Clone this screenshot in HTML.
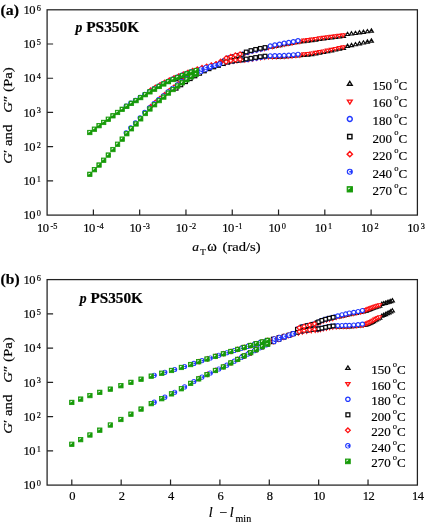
<!DOCTYPE html>
<html lang="en"><head><meta charset="utf-8"><title>PS350K master curves</title>
<style>
html,body{margin:0;padding:0;background:#fff;}
body{width:427px;height:525px;overflow:hidden;}
svg{display:block;}
text{font-family:"Liberation Serif","Times New Roman",serif;fill:#000;stroke:#000;stroke-width:0.18px;}
.tk{font-size:12.5px;letter-spacing:-0.5px;}
.sp{font-size:8.3px;}
.pl{font-size:14px;font-weight:bold;}
.ti{font-size:13.6px;font-weight:bold;}
.bi{font-style:italic;font-weight:bold;}
.it{font-style:italic;}
.yt{font-size:13.2px;white-space:pre;}
.xt{font-size:13.5px;}
.sb{font-size:8.8px;}
.lg{font-size:13px;}
.dg{font-size:8.6px;}
.xl{font-size:14px;}
.sm{font-size:10px;}
</style></head>
<body>
<svg width="427" height="525" viewBox="0 0 427 525">
<defs>
<path id="tu" d="M0,-2.15 L2.0,1.1 L-2.0,1.1 Z" fill="#fff" stroke="#0a0a0a" stroke-width="1.15"/>
<path id="td" d="M0,2.15 L2.0,-1.1 L-2.0,-1.1 Z" fill="#fff" stroke="#ff1212" stroke-width="1.15"/>
<circle id="co" r="2.05" fill="#fff" stroke="#2038ff" stroke-width="1.2"/>
<rect id="sq" x="-1.8" y="-1.8" width="3.6" height="3.6" fill="#fff" stroke="#0a0a0a" stroke-width="1.2"/>
<path id="di" d="M0,-2.2 L2.2,0 L0,2.2 L-2.2,0 Z" fill="#fff" stroke="#ff1212" stroke-width="1.2"/>
<g id="ch"><circle r="2.0" fill="#2038ff" stroke="#2038ff" stroke-width="1.1"/><path d="M0.75,-0.95 A1.15,1.15 0 1 0 0.75,0.95" fill="none" stroke="#fff" stroke-width="1.05"/></g>
<g id="sh"><rect x="-2.2" y="-2.2" width="4.4" height="4.4" fill="#169a08" stroke="#169a08" stroke-width="0.8"/><path d="M-1.3,-1.4 L0.7,-1.4 L-1.3,0.4 Z" fill="#fff"/></g>
</defs>
<rect width="427" height="525" fill="#fff"/>
<g id="plot-a">
<rect x="47.1" y="9.8" width="370.3" height="205.3" fill="none" stroke="#222" stroke-width="1.25"/>
<path d="M47.1,180.88h6 M47.1,146.67h6 M47.1,112.45h6 M47.1,78.23h6 M47.1,44.02h6 M93.39,215.1v-5.5 M139.67,215.1v-5.5 M185.96,215.1v-5.5 M232.25,215.1v-5.5 M278.54,215.1v-5.5 M324.82,215.1v-5.5 M371.11,215.1v-5.5" stroke="#222" stroke-width="1.2" fill="none"/>
<text class="tk" x="34.9" y="219.3" text-anchor="end">10</text><text class="sp" x="36.8" y="216">0</text>
<text class="tk" x="34.9" y="185.08" text-anchor="end">10</text><text class="sp" x="36.8" y="181.78">1</text>
<text class="tk" x="34.9" y="150.87" text-anchor="end">10</text><text class="sp" x="36.8" y="147.57">2</text>
<text class="tk" x="34.9" y="116.65" text-anchor="end">10</text><text class="sp" x="36.8" y="113.35">3</text>
<text class="tk" x="34.9" y="82.43" text-anchor="end">10</text><text class="sp" x="36.8" y="79.13">4</text>
<text class="tk" x="34.9" y="48.22" text-anchor="end">10</text><text class="sp" x="36.8" y="44.92">5</text>
<text class="tk" x="34.9" y="14" text-anchor="end">10</text><text class="sp" x="36.8" y="10.7">6</text>
<text class="tk" x="48.5" y="232" text-anchor="end">10</text><text class="sp" x="50.4" y="228.7">-5</text>
<text class="tk" x="94.79" y="232" text-anchor="end">10</text><text class="sp" x="96.69" y="228.7">-4</text>
<text class="tk" x="141.07" y="232" text-anchor="end">10</text><text class="sp" x="142.97" y="228.7">-3</text>
<text class="tk" x="187.36" y="232" text-anchor="end">10</text><text class="sp" x="189.26" y="228.7">-2</text>
<text class="tk" x="233.65" y="232" text-anchor="end">10</text><text class="sp" x="235.55" y="228.7">-1</text>
<text class="tk" x="279.94" y="232" text-anchor="end">10</text><text class="sp" x="281.84" y="228.7">0</text>
<text class="tk" x="326.22" y="232" text-anchor="end">10</text><text class="sp" x="328.12" y="228.7">1</text>
<text class="tk" x="372.51" y="232" text-anchor="end">10</text><text class="sp" x="374.41" y="228.7">2</text>
<text class="tk" x="418.8" y="232" text-anchor="end">10</text><text class="sp" x="420.7" y="228.7">3</text>
<g>
<use href="#tu" x="271.9" y="47"/>
<use href="#tu" x="275.88" y="46.2"/>
<use href="#tu" x="279.86" y="45.51"/>
<use href="#tu" x="283.84" y="44.65"/>
<use href="#tu" x="287.82" y="44.04"/>
<use href="#tu" x="291.8" y="43.39"/>
<use href="#tu" x="295.78" y="42.54"/>
<use href="#tu" x="299.76" y="41.92"/>
<use href="#tu" x="303.74" y="41.61"/>
<use href="#tu" x="307.72" y="41.14"/>
<use href="#tu" x="311.7" y="40.59"/>
<use href="#tu" x="315.68" y="40"/>
<use href="#tu" x="319.66" y="39.41"/>
<use href="#tu" x="323.64" y="38.86"/>
<use href="#tu" x="327.62" y="38.35"/>
<use href="#tu" x="331.6" y="37.86"/>
<use href="#tu" x="335.58" y="37.36"/>
<use href="#tu" x="339.56" y="36.86"/>
<use href="#tu" x="343.54" y="36.34"/>
<use href="#tu" x="347.52" y="34.4"/>
<use href="#tu" x="351.5" y="33.86"/>
<use href="#tu" x="355.48" y="33.38"/>
<use href="#tu" x="359.46" y="32.79"/>
<use href="#tu" x="363.44" y="32.21"/>
<use href="#tu" x="367.42" y="31.63"/>
<use href="#tu" x="371.4" y="31"/>
<use href="#tu" x="271.9" y="57.16"/>
<use href="#tu" x="275.88" y="57.08"/>
<use href="#tu" x="279.86" y="56.99"/>
<use href="#tu" x="283.84" y="56.91"/>
<use href="#tu" x="287.82" y="56.67"/>
<use href="#tu" x="291.8" y="56.35"/>
<use href="#tu" x="295.78" y="55.93"/>
<use href="#tu" x="299.76" y="55.6"/>
<use href="#tu" x="303.74" y="55.4"/>
<use href="#tu" x="307.72" y="55.02"/>
<use href="#tu" x="311.7" y="54.48"/>
<use href="#tu" x="315.68" y="53.82"/>
<use href="#tu" x="319.66" y="53.12"/>
<use href="#tu" x="323.64" y="52.42"/>
<use href="#tu" x="327.62" y="51.64"/>
<use href="#tu" x="331.6" y="50.78"/>
<use href="#tu" x="335.58" y="49.91"/>
<use href="#tu" x="339.56" y="49.07"/>
<use href="#tu" x="343.54" y="48.33"/>
<use href="#tu" x="347.52" y="46.3"/>
<use href="#tu" x="351.5" y="45.54"/>
<use href="#tu" x="355.48" y="44.66"/>
<use href="#tu" x="359.46" y="43.79"/>
<use href="#tu" x="363.44" y="42.91"/>
<use href="#tu" x="367.42" y="42.04"/>
<use href="#tu" x="371.4" y="41"/>
<use href="#td" x="225.2" y="59.56"/>
<use href="#td" x="229.13" y="57.99"/>
<use href="#td" x="233.06" y="56.82"/>
<use href="#td" x="236.99" y="55.74"/>
<use href="#td" x="240.92" y="54.76"/>
<use href="#td" x="244.85" y="53.42"/>
<use href="#td" x="248.78" y="52.16"/>
<use href="#td" x="252.71" y="51.07"/>
<use href="#td" x="256.64" y="50.14"/>
<use href="#td" x="260.57" y="49.31"/>
<use href="#td" x="264.5" y="48.61"/>
<use href="#td" x="268.43" y="47.5"/>
<use href="#td" x="272.36" y="46.5"/>
<use href="#td" x="276.29" y="45.73"/>
<use href="#td" x="280.22" y="45.03"/>
<use href="#td" x="284.15" y="44.19"/>
<use href="#td" x="288.08" y="43.6"/>
<use href="#td" x="292.01" y="42.95"/>
<use href="#td" x="295.94" y="42.1"/>
<use href="#td" x="299.87" y="41.51"/>
<use href="#td" x="303.8" y="40.2"/>
<use href="#td" x="307.73" y="39.74"/>
<use href="#td" x="311.66" y="39.2"/>
<use href="#td" x="315.59" y="38.61"/>
<use href="#td" x="319.52" y="38.03"/>
<use href="#td" x="323.45" y="37.49"/>
<use href="#td" x="327.38" y="36.98"/>
<use href="#td" x="331.31" y="36.49"/>
<use href="#td" x="335.24" y="36"/>
<use href="#td" x="339.17" y="35.51"/>
<use href="#td" x="343.1" y="35"/>
<use href="#td" x="225.2" y="63.17"/>
<use href="#td" x="229.13" y="62.09"/>
<use href="#td" x="233.06" y="61.34"/>
<use href="#td" x="236.99" y="60.79"/>
<use href="#td" x="240.92" y="60.33"/>
<use href="#td" x="244.85" y="60.1"/>
<use href="#td" x="248.78" y="59.62"/>
<use href="#td" x="252.71" y="58.97"/>
<use href="#td" x="256.64" y="58.3"/>
<use href="#td" x="260.57" y="57.63"/>
<use href="#td" x="264.5" y="57.14"/>
<use href="#td" x="268.43" y="56.87"/>
<use href="#td" x="272.36" y="56.75"/>
<use href="#td" x="276.29" y="56.67"/>
<use href="#td" x="280.22" y="56.58"/>
<use href="#td" x="284.15" y="56.5"/>
<use href="#td" x="288.08" y="56.25"/>
<use href="#td" x="292.01" y="55.93"/>
<use href="#td" x="295.94" y="55.51"/>
<use href="#td" x="299.87" y="55.19"/>
<use href="#td" x="303.8" y="54"/>
<use href="#td" x="307.73" y="53.62"/>
<use href="#td" x="311.66" y="53.08"/>
<use href="#td" x="315.59" y="52.44"/>
<use href="#td" x="319.52" y="51.74"/>
<use href="#td" x="323.45" y="51.05"/>
<use href="#td" x="327.38" y="50.29"/>
<use href="#td" x="331.31" y="49.45"/>
<use href="#td" x="335.24" y="48.58"/>
<use href="#td" x="339.17" y="47.75"/>
<use href="#td" x="343.1" y="47"/>
<use href="#co" x="224.12" y="60.54"/>
<use href="#co" x="228.75" y="57.95"/>
<use href="#co" x="233.38" y="56.58"/>
<use href="#co" x="238.01" y="55.35"/>
<use href="#co" x="242.64" y="54.06"/>
<use href="#co" x="247.27" y="52.49"/>
<use href="#co" x="251.9" y="51.13"/>
<use href="#co" x="256.53" y="50.01"/>
<use href="#co" x="261.16" y="49.04"/>
<use href="#co" x="265.79" y="48.16"/>
<use href="#co" x="270.22" y="46"/>
<use href="#co" x="274.85" y="44.99"/>
<use href="#co" x="279.48" y="44.18"/>
<use href="#co" x="284.11" y="43.2"/>
<use href="#co" x="288.74" y="42.49"/>
<use href="#co" x="293.37" y="41.71"/>
<use href="#co" x="298" y="40.7"/>
<use href="#co" x="224.12" y="63.29"/>
<use href="#co" x="228.75" y="61.93"/>
<use href="#co" x="233.38" y="61.03"/>
<use href="#co" x="238.01" y="60.37"/>
<use href="#co" x="242.64" y="59.94"/>
<use href="#co" x="247.27" y="59.59"/>
<use href="#co" x="251.9" y="58.84"/>
<use href="#co" x="256.53" y="58.05"/>
<use href="#co" x="261.16" y="57.28"/>
<use href="#co" x="265.79" y="56.75"/>
<use href="#co" x="270.22" y="55.8"/>
<use href="#co" x="274.85" y="55.7"/>
<use href="#co" x="279.48" y="55.6"/>
<use href="#co" x="284.11" y="55.5"/>
<use href="#co" x="288.74" y="55.2"/>
<use href="#co" x="293.37" y="54.8"/>
<use href="#co" x="298" y="54.3"/>
<use href="#sq" x="176.2" y="88.3"/>
<use href="#sq" x="180.9" y="84.9"/>
<use href="#sq" x="185.6" y="81.74"/>
<use href="#sq" x="190.3" y="78.71"/>
<use href="#sq" x="195" y="75.94"/>
<use href="#sq" x="199.7" y="73.35"/>
<use href="#sq" x="204.4" y="70.95"/>
<use href="#sq" x="209.1" y="68.79"/>
<use href="#sq" x="213.8" y="66.95"/>
<use href="#sq" x="218.5" y="65.33"/>
<use href="#sq" x="223.2" y="61.88"/>
<use href="#sq" x="227.9" y="58.29"/>
<use href="#sq" x="232.6" y="56.92"/>
<use href="#sq" x="237.3" y="55.58"/>
<use href="#sq" x="242" y="54.38"/>
<use href="#sq" x="246.2" y="51.97"/>
<use href="#sq" x="250.9" y="50.55"/>
<use href="#sq" x="255.6" y="49.38"/>
<use href="#sq" x="260.3" y="48.36"/>
<use href="#sq" x="265" y="47.5"/>
<use href="#sq" x="176.2" y="78.96"/>
<use href="#sq" x="180.9" y="76.97"/>
<use href="#sq" x="185.6" y="75.12"/>
<use href="#sq" x="190.3" y="73.35"/>
<use href="#sq" x="195" y="71.67"/>
<use href="#sq" x="199.7" y="70.15"/>
<use href="#sq" x="204.4" y="68.69"/>
<use href="#sq" x="209.1" y="67.38"/>
<use href="#sq" x="213.8" y="66.23"/>
<use href="#sq" x="218.5" y="65.07"/>
<use href="#sq" x="223.2" y="63.61"/>
<use href="#sq" x="227.9" y="62.14"/>
<use href="#sq" x="232.6" y="61.09"/>
<use href="#sq" x="237.3" y="60.41"/>
<use href="#sq" x="242" y="59.89"/>
<use href="#sq" x="246.2" y="58.99"/>
<use href="#sq" x="250.9" y="58.27"/>
<use href="#sq" x="255.6" y="57.48"/>
<use href="#sq" x="260.3" y="56.67"/>
<use href="#sq" x="265" y="56.1"/>
<use href="#di" x="150.76" y="106.44"/>
<use href="#di" x="155.42" y="102.21"/>
<use href="#di" x="160.08" y="98.28"/>
<use href="#di" x="164.74" y="94.59"/>
<use href="#di" x="169.4" y="90.67"/>
<use href="#di" x="174.06" y="87.15"/>
<use href="#di" x="178.72" y="83.71"/>
<use href="#di" x="183.38" y="80.54"/>
<use href="#di" x="188.04" y="77.52"/>
<use href="#di" x="192.7" y="74.7"/>
<use href="#di" x="197.36" y="72.12"/>
<use href="#di" x="202.02" y="69.68"/>
<use href="#di" x="206.68" y="67.48"/>
<use href="#di" x="211.34" y="65.57"/>
<use href="#di" x="216" y="63.93"/>
<use href="#di" x="220.66" y="61.41"/>
<use href="#di" x="226.12" y="57.99"/>
<use href="#di" x="230.78" y="56.54"/>
<use href="#di" x="235.44" y="55.12"/>
<use href="#di" x="240.1" y="54"/>
<use href="#di" x="150.76" y="90.08"/>
<use href="#di" x="155.42" y="87.37"/>
<use href="#di" x="160.08" y="84.72"/>
<use href="#di" x="164.74" y="82.26"/>
<use href="#di" x="169.4" y="80.01"/>
<use href="#di" x="174.06" y="77.92"/>
<use href="#di" x="178.72" y="75.93"/>
<use href="#di" x="183.38" y="74.07"/>
<use href="#di" x="188.04" y="72.31"/>
<use href="#di" x="192.7" y="70.62"/>
<use href="#di" x="197.36" y="69.07"/>
<use href="#di" x="202.02" y="67.63"/>
<use href="#di" x="206.68" y="66.27"/>
<use href="#di" x="211.34" y="65.1"/>
<use href="#di" x="216" y="63.98"/>
<use href="#di" x="220.66" y="62.64"/>
<use href="#di" x="226.12" y="61.89"/>
<use href="#di" x="230.78" y="60.72"/>
<use href="#di" x="235.44" y="60.01"/>
<use href="#di" x="240.1" y="59.4"/>
<use href="#ch" x="126.1" y="132.72"/>
<use href="#ch" x="130.75" y="127.76"/>
<use href="#ch" x="135.4" y="122.91"/>
<use href="#ch" x="140.05" y="117.77"/>
<use href="#ch" x="144.7" y="112.41"/>
<use href="#ch" x="149.35" y="107.85"/>
<use href="#ch" x="154" y="103.58"/>
<use href="#ch" x="158.65" y="99.44"/>
<use href="#ch" x="163.3" y="95.9"/>
<use href="#ch" x="167.95" y="91.86"/>
<use href="#ch" x="172.6" y="88.32"/>
<use href="#ch" x="177.25" y="84.79"/>
<use href="#ch" x="181.9" y="81.56"/>
<use href="#ch" x="186.55" y="78.5"/>
<use href="#ch" x="191.2" y="75.58"/>
<use href="#ch" x="201.1" y="71.55"/>
<use href="#ch" x="205.75" y="69.27"/>
<use href="#ch" x="210.4" y="67.24"/>
<use href="#ch" x="215.05" y="65.52"/>
<use href="#ch" x="219.7" y="63.8"/>
<use href="#ch" x="126.1" y="105.93"/>
<use href="#ch" x="130.75" y="102.99"/>
<use href="#ch" x="135.4" y="100.22"/>
<use href="#ch" x="140.05" y="97.2"/>
<use href="#ch" x="144.7" y="94.26"/>
<use href="#ch" x="149.35" y="91.43"/>
<use href="#ch" x="154" y="88.72"/>
<use href="#ch" x="158.65" y="86.03"/>
<use href="#ch" x="163.3" y="83.5"/>
<use href="#ch" x="167.95" y="81.18"/>
<use href="#ch" x="172.6" y="79.06"/>
<use href="#ch" x="177.25" y="77.04"/>
<use href="#ch" x="181.9" y="75.12"/>
<use href="#ch" x="186.55" y="73.34"/>
<use href="#ch" x="191.2" y="71.63"/>
<use href="#ch" x="201.1" y="68.97"/>
<use href="#ch" x="205.75" y="67.54"/>
<use href="#ch" x="210.4" y="66.32"/>
<use href="#ch" x="215.05" y="65.21"/>
<use href="#ch" x="219.7" y="64"/>
<use href="#sh" x="89.8" y="174.3"/>
<use href="#sh" x="94.43" y="169.67"/>
<use href="#sh" x="99.05" y="165.04"/>
<use href="#sh" x="103.68" y="160.21"/>
<use href="#sh" x="108.31" y="155.08"/>
<use href="#sh" x="112.93" y="149.55"/>
<use href="#sh" x="117.56" y="144.23"/>
<use href="#sh" x="122.18" y="139.13"/>
<use href="#sh" x="126.81" y="133.7"/>
<use href="#sh" x="131.44" y="128.77"/>
<use href="#sh" x="136.06" y="123.95"/>
<use href="#sh" x="140.69" y="118.83"/>
<use href="#sh" x="145.31" y="113.49"/>
<use href="#sh" x="149.94" y="108.96"/>
<use href="#sh" x="154.57" y="104.71"/>
<use href="#sh" x="159.19" y="100.59"/>
<use href="#sh" x="163.82" y="97.07"/>
<use href="#sh" x="168.44" y="93.05"/>
<use href="#sh" x="173.07" y="89.52"/>
<use href="#sh" x="177.7" y="86"/>
<use href="#sh" x="182.32" y="82.79"/>
<use href="#sh" x="186.95" y="79.73"/>
<use href="#sh" x="191.57" y="76.82"/>
<use href="#sh" x="196.2" y="74.2"/>
<use href="#sh" x="89.8" y="132.5"/>
<use href="#sh" x="94.43" y="129.18"/>
<use href="#sh" x="99.05" y="125.66"/>
<use href="#sh" x="103.68" y="122.44"/>
<use href="#sh" x="108.31" y="119.22"/>
<use href="#sh" x="112.93" y="115.8"/>
<use href="#sh" x="117.56" y="112.46"/>
<use href="#sh" x="122.18" y="109.28"/>
<use href="#sh" x="126.81" y="106.26"/>
<use href="#sh" x="131.44" y="103.34"/>
<use href="#sh" x="136.06" y="100.59"/>
<use href="#sh" x="140.69" y="97.57"/>
<use href="#sh" x="145.31" y="94.65"/>
<use href="#sh" x="149.94" y="91.84"/>
<use href="#sh" x="154.57" y="89.14"/>
<use href="#sh" x="159.19" y="86.46"/>
<use href="#sh" x="163.82" y="83.94"/>
<use href="#sh" x="168.44" y="81.63"/>
<use href="#sh" x="173.07" y="79.51"/>
<use href="#sh" x="177.7" y="77.5"/>
<use href="#sh" x="182.32" y="75.59"/>
<use href="#sh" x="186.95" y="73.82"/>
<use href="#sh" x="191.57" y="72.11"/>
<use href="#sh" x="196.2" y="70.5"/>
</g>
<text class="pl" x="0.6" y="14.6" textLength="18.4" lengthAdjust="spacingAndGlyphs">(a)</text>
<text class="ti" x="75.6" y="32.3"><tspan class="bi">p</tspan></text>
<text class="ti" x="86.2" y="32.3" textLength="53" lengthAdjust="spacingAndGlyphs">PS350K</text>
<text class="yt" transform="translate(11.6,115.5) rotate(-90)" text-anchor="middle" textLength="96.5" lengthAdjust="spacingAndGlyphs"><tspan class="it">G</tspan>′ and  <tspan class="it" dx="4">G</tspan>″ (Pa)</text>
<text class="xt" x="192.3" y="251.1"><tspan class="it">a</tspan></text>
<text class="sb" x="200.2" y="255.2">T</text>
<text class="xt" x="207.2" y="251.1" style="font-size:14.6px">ω</text>
<text class="xt" x="222.6" y="251.1" textLength="38" lengthAdjust="spacingAndGlyphs">(rad/s)</text>
<use href="#tu" x="349.8" y="83.9" transform="translate(349.8,83.9) scale(1.2) translate(-349.8,-83.9)"/>
<text class="lg" x="372.6" y="89.9">150</text><text class="dg" x="394.2" y="82.7">o</text><text class="lg" x="398.4" y="89.9">C</text>
<use href="#td" x="349.8" y="101.47" transform="translate(349.8,101.47) scale(1.2) translate(-349.8,-101.47)"/>
<text class="lg" x="372.6" y="107.47">160</text><text class="dg" x="394.2" y="100.27">o</text><text class="lg" x="398.4" y="107.47">C</text>
<use href="#co" x="349.8" y="119.04" transform="translate(349.8,119.04) scale(1.2) translate(-349.8,-119.04)"/>
<text class="lg" x="372.6" y="125.04">180</text><text class="dg" x="394.2" y="117.84">o</text><text class="lg" x="398.4" y="125.04">C</text>
<use href="#sq" x="349.8" y="136.61" transform="translate(349.8,136.61) scale(1.2) translate(-349.8,-136.61)"/>
<text class="lg" x="372.6" y="142.61">200</text><text class="dg" x="394.2" y="135.41">o</text><text class="lg" x="398.4" y="142.61">C</text>
<use href="#di" x="349.8" y="154.18" transform="translate(349.8,154.18) scale(1.2) translate(-349.8,-154.18)"/>
<text class="lg" x="372.6" y="160.18">220</text><text class="dg" x="394.2" y="152.98">o</text><text class="lg" x="398.4" y="160.18">C</text>
<use href="#ch" x="349.8" y="171.75" transform="translate(349.8,171.75) scale(1.2) translate(-349.8,-171.75)"/>
<text class="lg" x="372.6" y="177.75">240</text><text class="dg" x="394.2" y="170.55">o</text><text class="lg" x="398.4" y="177.75">C</text>
<use href="#sh" x="349.8" y="189.32" transform="translate(349.8,189.32) scale(1.2) translate(-349.8,-189.32)"/>
<text class="lg" x="372.6" y="195.32">270</text><text class="dg" x="394.2" y="188.12">o</text><text class="lg" x="398.4" y="195.32">C</text>
</g>
<g id="plot-b">
<rect x="47.1" y="279.6" width="370.3" height="205.5" fill="none" stroke="#222" stroke-width="1.25"/>
<path d="M47.1,450.85h6 M47.1,416.6h6 M47.1,382.35h6 M47.1,348.1h6 M47.1,313.85h6 M71.8,485.1v-5.5 M121.17,485.1v-5.5 M170.54,485.1v-5.5 M219.91,485.1v-5.5 M269.29,485.1v-5.5 M318.66,485.1v-5.5 M368.03,485.1v-5.5" stroke="#222" stroke-width="1.2" fill="none"/>
<text class="tk" x="34.9" y="489.3" text-anchor="end">10</text><text class="sp" x="36.8" y="486">0</text>
<text class="tk" x="34.9" y="455.05" text-anchor="end">10</text><text class="sp" x="36.8" y="451.75">1</text>
<text class="tk" x="34.9" y="420.8" text-anchor="end">10</text><text class="sp" x="36.8" y="417.5">2</text>
<text class="tk" x="34.9" y="386.55" text-anchor="end">10</text><text class="sp" x="36.8" y="383.25">3</text>
<text class="tk" x="34.9" y="352.3" text-anchor="end">10</text><text class="sp" x="36.8" y="349">4</text>
<text class="tk" x="34.9" y="318.05" text-anchor="end">10</text><text class="sp" x="36.8" y="314.75">5</text>
<text class="tk" x="34.9" y="283.8" text-anchor="end">10</text><text class="sp" x="36.8" y="280.5">6</text>
<text class="tk" x="72.2" y="499.7" text-anchor="middle">0</text>
<text class="tk" x="121.57" y="499.7" text-anchor="middle">2</text>
<text class="tk" x="170.94" y="499.7" text-anchor="middle">4</text>
<text class="tk" x="220.31" y="499.7" text-anchor="middle">6</text>
<text class="tk" x="269.69" y="499.7" text-anchor="middle">8</text>
<text class="tk" x="319.06" y="499.7" text-anchor="middle">10</text>
<text class="tk" x="368.43" y="499.7" text-anchor="middle">12</text>
<text class="tk" x="417.8" y="499.7" text-anchor="middle">14</text>
<g>
<use href="#tu" x="339.33" y="316.84"/>
<use href="#tu" x="342.8" y="316.04"/>
<use href="#tu" x="345.96" y="315.34"/>
<use href="#tu" x="349.06" y="314.48"/>
<use href="#tu" x="352.85" y="313.87"/>
<use href="#tu" x="356.61" y="313.22"/>
<use href="#tu" x="360.53" y="312.37"/>
<use href="#tu" x="363.31" y="311.75"/>
<use href="#tu" x="364.88" y="311.44"/>
<use href="#tu" x="366.45" y="310.97"/>
<use href="#tu" x="367.93" y="310.42"/>
<use href="#tu" x="369.36" y="309.83"/>
<use href="#tu" x="370.75" y="309.24"/>
<use href="#tu" x="372.13" y="308.69"/>
<use href="#tu" x="373.53" y="308.18"/>
<use href="#tu" x="374.97" y="307.68"/>
<use href="#tu" x="376.48" y="307.19"/>
<use href="#tu" x="378.08" y="306.68"/>
<use href="#tu" x="379.8" y="306.17"/>
<use href="#tu" x="381.81" y="304.22"/>
<use href="#tu" x="383.69" y="303.69"/>
<use href="#tu" x="385.54" y="303.2"/>
<use href="#tu" x="387.35" y="302.61"/>
<use href="#tu" x="389.1" y="302.03"/>
<use href="#tu" x="390.78" y="301.45"/>
<use href="#tu" x="392.4" y="300.82"/>
<use href="#tu" x="339.33" y="327"/>
<use href="#tu" x="342.8" y="326.92"/>
<use href="#tu" x="345.96" y="326.84"/>
<use href="#tu" x="349.06" y="326.75"/>
<use href="#tu" x="352.85" y="326.51"/>
<use href="#tu" x="356.61" y="326.19"/>
<use href="#tu" x="360.53" y="325.77"/>
<use href="#tu" x="363.31" y="325.44"/>
<use href="#tu" x="364.88" y="325.25"/>
<use href="#tu" x="366.45" y="324.87"/>
<use href="#tu" x="367.93" y="324.32"/>
<use href="#tu" x="369.36" y="323.66"/>
<use href="#tu" x="370.75" y="322.96"/>
<use href="#tu" x="372.13" y="322.26"/>
<use href="#tu" x="373.53" y="321.48"/>
<use href="#tu" x="374.97" y="320.62"/>
<use href="#tu" x="376.48" y="319.74"/>
<use href="#tu" x="378.08" y="318.9"/>
<use href="#tu" x="379.8" y="318.16"/>
<use href="#tu" x="381.81" y="316.13"/>
<use href="#tu" x="383.69" y="315.37"/>
<use href="#tu" x="385.54" y="314.49"/>
<use href="#tu" x="387.35" y="313.62"/>
<use href="#tu" x="389.1" y="312.75"/>
<use href="#tu" x="390.78" y="311.87"/>
<use href="#tu" x="392.4" y="310.83"/>
<use href="#td" x="298.31" y="329.41"/>
<use href="#td" x="302.29" y="327.84"/>
<use href="#td" x="306.72" y="326.67"/>
<use href="#td" x="311.29" y="325.58"/>
<use href="#td" x="315.18" y="324.6"/>
<use href="#td" x="317.91" y="323.26"/>
<use href="#td" x="320.37" y="322"/>
<use href="#td" x="323.25" y="320.91"/>
<use href="#td" x="326.41" y="319.98"/>
<use href="#td" x="329.58" y="319.15"/>
<use href="#td" x="332.78" y="318.44"/>
<use href="#td" x="336.22" y="317.34"/>
<use href="#td" x="339.75" y="316.33"/>
<use href="#td" x="343.13" y="315.57"/>
<use href="#td" x="346.24" y="314.87"/>
<use href="#td" x="349.33" y="314.02"/>
<use href="#td" x="353.1" y="313.43"/>
<use href="#td" x="356.8" y="312.79"/>
<use href="#td" x="360.69" y="311.93"/>
<use href="#td" x="363.36" y="311.34"/>
<use href="#td" x="364.9" y="310.03"/>
<use href="#td" x="366.45" y="309.57"/>
<use href="#td" x="367.92" y="309.03"/>
<use href="#td" x="369.33" y="308.44"/>
<use href="#td" x="370.7" y="307.86"/>
<use href="#td" x="372.07" y="307.32"/>
<use href="#td" x="373.45" y="306.81"/>
<use href="#td" x="374.86" y="306.32"/>
<use href="#td" x="376.35" y="305.83"/>
<use href="#td" x="377.92" y="305.33"/>
<use href="#td" x="379.6" y="304.82"/>
<use href="#td" x="298.31" y="333.02"/>
<use href="#td" x="302.29" y="331.94"/>
<use href="#td" x="306.72" y="331.19"/>
<use href="#td" x="311.29" y="330.63"/>
<use href="#td" x="315.18" y="330.18"/>
<use href="#td" x="317.91" y="329.95"/>
<use href="#td" x="320.37" y="329.47"/>
<use href="#td" x="323.25" y="328.82"/>
<use href="#td" x="326.41" y="328.14"/>
<use href="#td" x="329.58" y="327.48"/>
<use href="#td" x="332.78" y="326.99"/>
<use href="#td" x="336.22" y="326.72"/>
<use href="#td" x="339.75" y="326.59"/>
<use href="#td" x="343.13" y="326.51"/>
<use href="#td" x="346.24" y="326.43"/>
<use href="#td" x="349.33" y="326.34"/>
<use href="#td" x="353.1" y="326.09"/>
<use href="#td" x="356.8" y="325.77"/>
<use href="#td" x="360.69" y="325.35"/>
<use href="#td" x="363.36" y="325.04"/>
<use href="#td" x="364.9" y="323.84"/>
<use href="#td" x="366.45" y="323.46"/>
<use href="#td" x="367.92" y="322.92"/>
<use href="#td" x="369.33" y="322.28"/>
<use href="#td" x="370.7" y="321.58"/>
<use href="#td" x="372.07" y="320.89"/>
<use href="#td" x="373.45" y="320.13"/>
<use href="#td" x="374.86" y="319.28"/>
<use href="#td" x="376.35" y="318.42"/>
<use href="#td" x="377.92" y="317.58"/>
<use href="#td" x="379.6" y="316.84"/>
<use href="#co" x="298.05" y="328.61"/>
<use href="#co" x="302.69" y="326.74"/>
<use href="#co" x="307.87" y="325.37"/>
<use href="#co" x="313.21" y="324.18"/>
<use href="#co" x="317.31" y="322.58"/>
<use href="#co" x="320.28" y="321.04"/>
<use href="#co" x="323.46" y="319.85"/>
<use href="#co" x="327.16" y="318.77"/>
<use href="#co" x="330.89" y="317.86"/>
<use href="#co" x="334.71" y="316.87"/>
<use href="#co" x="337.82" y="315.83"/>
<use href="#co" x="341.94" y="314.82"/>
<use href="#co" x="345.66" y="314.02"/>
<use href="#co" x="349.3" y="313.03"/>
<use href="#co" x="353.74" y="312.33"/>
<use href="#co" x="358.07" y="311.54"/>
<use href="#co" x="362.4" y="310.53"/>
<use href="#co" x="298.05" y="332.1"/>
<use href="#co" x="302.69" y="330.85"/>
<use href="#co" x="307.87" y="330.06"/>
<use href="#co" x="313.21" y="329.39"/>
<use href="#co" x="317.31" y="329.01"/>
<use href="#co" x="320.28" y="328.49"/>
<use href="#co" x="323.46" y="327.78"/>
<use href="#co" x="327.16" y="326.97"/>
<use href="#co" x="330.89" y="326.25"/>
<use href="#co" x="334.71" y="325.82"/>
<use href="#co" x="337.82" y="325.64"/>
<use href="#co" x="341.94" y="325.54"/>
<use href="#co" x="345.66" y="325.44"/>
<use href="#co" x="349.3" y="325.34"/>
<use href="#co" x="353.74" y="325.04"/>
<use href="#co" x="358.07" y="324.65"/>
<use href="#co" x="362.4" y="324.14"/>
<use href="#sq" x="243" y="356.56"/>
<use href="#sq" x="249.62" y="353.22"/>
<use href="#sq" x="255.6" y="349.98"/>
<use href="#sq" x="261.58" y="347.06"/>
<use href="#sq" x="267.28" y="344.3"/>
<use href="#sq" x="273.28" y="341.8"/>
<use href="#sq" x="278.91" y="339.35"/>
<use href="#sq" x="284.07" y="337.26"/>
<use href="#sq" x="288.97" y="335.44"/>
<use href="#sq" x="293.15" y="333.62"/>
<use href="#sq" x="297.38" y="329.25"/>
<use href="#sq" x="302.01" y="326.91"/>
<use href="#sq" x="307.08" y="325.57"/>
<use href="#sq" x="312.57" y="324.32"/>
<use href="#sq" x="317.13" y="322.69"/>
<use href="#sq" x="318.75" y="321.81"/>
<use href="#sq" x="321.85" y="320.39"/>
<use href="#sq" x="325.58" y="319.22"/>
<use href="#sq" x="329.36" y="318.2"/>
<use href="#sq" x="333.2" y="317.34"/>
<use href="#sq" x="243" y="347.76"/>
<use href="#sq" x="249.62" y="345.79"/>
<use href="#sq" x="255.6" y="343.9"/>
<use href="#sq" x="261.58" y="342.2"/>
<use href="#sq" x="267.28" y="340.5"/>
<use href="#sq" x="273.28" y="339.06"/>
<use href="#sq" x="278.91" y="337.54"/>
<use href="#sq" x="284.07" y="336.28"/>
<use href="#sq" x="288.97" y="335.11"/>
<use href="#sq" x="293.15" y="333.84"/>
<use href="#sq" x="297.38" y="332.33"/>
<use href="#sq" x="302.01" y="331"/>
<use href="#sq" x="307.08" y="330.15"/>
<use href="#sq" x="312.57" y="329.47"/>
<use href="#sq" x="317.13" y="329.02"/>
<use href="#sq" x="318.75" y="328.84"/>
<use href="#sq" x="321.85" y="328.12"/>
<use href="#sq" x="325.58" y="327.33"/>
<use href="#sq" x="329.36" y="326.52"/>
<use href="#sq" x="333.2" y="325.95"/>
<use href="#di" x="199.07" y="378.65"/>
<use href="#di" x="207.49" y="374.35"/>
<use href="#di" x="215.87" y="370.26"/>
<use href="#di" x="223.7" y="366.79"/>
<use href="#di" x="231" y="362.83"/>
<use href="#di" x="237.82" y="359.37"/>
<use href="#di" x="244.38" y="355.83"/>
<use href="#di" x="250.52" y="352.77"/>
<use href="#di" x="256.3" y="349.62"/>
<use href="#di" x="262.14" y="346.79"/>
<use href="#di" x="267.87" y="344.03"/>
<use href="#di" x="273.71" y="341.62"/>
<use href="#di" x="278.85" y="339.38"/>
<use href="#di" x="283.8" y="337.37"/>
<use href="#di" x="288.17" y="335.75"/>
<use href="#di" x="292.21" y="334.12"/>
<use href="#di" x="299.22" y="327.84"/>
<use href="#di" x="304.07" y="326.38"/>
<use href="#di" x="309.53" y="324.96"/>
<use href="#di" x="314.5" y="323.84"/>
<use href="#di" x="199.07" y="361.59"/>
<use href="#di" x="207.49" y="358.85"/>
<use href="#di" x="215.87" y="356.19"/>
<use href="#di" x="223.7" y="353.71"/>
<use href="#di" x="231" y="351.44"/>
<use href="#di" x="237.82" y="349.36"/>
<use href="#di" x="244.38" y="347.34"/>
<use href="#di" x="250.52" y="345.52"/>
<use href="#di" x="256.3" y="343.69"/>
<use href="#di" x="262.14" y="342.04"/>
<use href="#di" x="267.87" y="340.34"/>
<use href="#di" x="273.71" y="338.95"/>
<use href="#di" x="278.85" y="337.55"/>
<use href="#di" x="283.8" y="336.35"/>
<use href="#di" x="288.17" y="335.32"/>
<use href="#di" x="292.21" y="334.14"/>
<use href="#di" x="299.22" y="331.75"/>
<use href="#di" x="304.07" y="330.57"/>
<use href="#di" x="309.53" y="329.86"/>
<use href="#di" x="314.5" y="329.25"/>
<use href="#ch" x="154.25" y="402.15"/>
<use href="#ch" x="164.87" y="397.17"/>
<use href="#ch" x="174.68" y="392.25"/>
<use href="#ch" x="184.59" y="386.92"/>
<use href="#ch" x="193.91" y="381.52"/>
<use href="#ch" x="202.01" y="377.11"/>
<use href="#ch" x="210.34" y="372.93"/>
<use href="#ch" x="218.81" y="368.97"/>
<use href="#ch" x="226.8" y="365.14"/>
<use href="#ch" x="234.28" y="361.16"/>
<use href="#ch" x="241.25" y="357.52"/>
<use href="#ch" x="247.81" y="354.12"/>
<use href="#ch" x="254.26" y="350.72"/>
<use href="#ch" x="259.89" y="347.86"/>
<use href="#ch" x="265.95" y="344.93"/>
<use href="#ch" x="274.22" y="341.41"/>
<use href="#ch" x="279.43" y="339.13"/>
<use href="#ch" x="284.5" y="337.1"/>
<use href="#ch" x="289.15" y="335.37"/>
<use href="#ch" x="293.1" y="333.65"/>
<use href="#ch" x="154.25" y="375.29"/>
<use href="#ch" x="164.87" y="372.36"/>
<use href="#ch" x="174.68" y="369.53"/>
<use href="#ch" x="184.59" y="366.46"/>
<use href="#ch" x="193.91" y="363.4"/>
<use href="#ch" x="202.01" y="360.61"/>
<use href="#ch" x="210.34" y="357.94"/>
<use href="#ch" x="218.81" y="355.25"/>
<use href="#ch" x="226.8" y="352.74"/>
<use href="#ch" x="234.28" y="350.44"/>
<use href="#ch" x="241.25" y="348.3"/>
<use href="#ch" x="247.81" y="346.33"/>
<use href="#ch" x="254.26" y="344.33"/>
<use href="#ch" x="259.89" y="342.67"/>
<use href="#ch" x="265.95" y="340.89"/>
<use href="#ch" x="274.22" y="338.83"/>
<use href="#ch" x="279.43" y="337.4"/>
<use href="#ch" x="284.5" y="336.18"/>
<use href="#ch" x="289.15" y="335.07"/>
<use href="#ch" x="293.1" y="333.85"/>
<use href="#sh" x="71.8" y="444.26"/>
<use href="#sh" x="80.65" y="439.63"/>
<use href="#sh" x="89.91" y="435"/>
<use href="#sh" x="99.78" y="430.16"/>
<use href="#sh" x="110.34" y="425.02"/>
<use href="#sh" x="120.89" y="419.48"/>
<use href="#sh" x="130.93" y="414.17"/>
<use href="#sh" x="141.05" y="409.06"/>
<use href="#sh" x="151.2" y="403.62"/>
<use href="#sh" x="161.76" y="398.68"/>
<use href="#sh" x="171.51" y="393.86"/>
<use href="#sh" x="181.37" y="388.73"/>
<use href="#sh" x="190.64" y="383.39"/>
<use href="#sh" x="198.69" y="378.85"/>
<use href="#sh" x="206.98" y="374.6"/>
<use href="#sh" x="215.41" y="370.48"/>
<use href="#sh" x="223.36" y="366.95"/>
<use href="#sh" x="230.81" y="362.93"/>
<use href="#sh" x="237.76" y="359.4"/>
<use href="#sh" x="244.29" y="355.88"/>
<use href="#sh" x="250.73" y="352.66"/>
<use href="#sh" x="256.33" y="349.6"/>
<use href="#sh" x="262.37" y="346.68"/>
<use href="#sh" x="267.8" y="344.06"/>
<use href="#sh" x="71.8" y="402.42"/>
<use href="#sh" x="80.65" y="399.1"/>
<use href="#sh" x="89.91" y="395.57"/>
<use href="#sh" x="99.78" y="392.35"/>
<use href="#sh" x="110.34" y="389.13"/>
<use href="#sh" x="120.89" y="385.71"/>
<use href="#sh" x="130.93" y="382.36"/>
<use href="#sh" x="141.05" y="379.17"/>
<use href="#sh" x="151.2" y="376.15"/>
<use href="#sh" x="161.76" y="373.23"/>
<use href="#sh" x="171.51" y="370.47"/>
<use href="#sh" x="181.37" y="367.46"/>
<use href="#sh" x="190.64" y="364.54"/>
<use href="#sh" x="198.69" y="361.72"/>
<use href="#sh" x="206.98" y="359.01"/>
<use href="#sh" x="215.41" y="356.34"/>
<use href="#sh" x="223.36" y="353.81"/>
<use href="#sh" x="230.81" y="351.5"/>
<use href="#sh" x="237.76" y="349.38"/>
<use href="#sh" x="244.29" y="347.37"/>
<use href="#sh" x="250.73" y="345.46"/>
<use href="#sh" x="256.33" y="343.68"/>
<use href="#sh" x="262.37" y="341.97"/>
<use href="#sh" x="267.8" y="340.36"/>
</g>
<text class="pl" x="0.6" y="283.8" textLength="19" lengthAdjust="spacingAndGlyphs">(b)</text>
<text class="ti" x="79.8" y="302.9"><tspan class="bi">p</tspan></text>
<text class="ti" x="90.4" y="302.9" textLength="52.5" lengthAdjust="spacingAndGlyphs">PS350K</text>
<text class="yt" transform="translate(11.6,385.5) rotate(-90)" text-anchor="middle" textLength="96.5" lengthAdjust="spacingAndGlyphs"><tspan class="it">G</tspan>′ and  <tspan class="it" dx="4">G</tspan>″ (Pa)</text>
<text class="xl" x="208.8" y="516.8"><tspan class="it">l</tspan></text>
<text class="xl" x="219.4" y="516.8">−</text>
<text class="xl" x="229.8" y="516.8"><tspan class="it">l</tspan></text>
<text class="sm" x="235.6" y="521.5">min</text>
<use href="#tu" x="347.9" y="368.2" transform="translate(347.9,368.2) scale(1.08) translate(-347.9,-368.2)"/>
<text class="lg" x="371.2" y="374.2">150</text><text class="dg" x="392.8" y="367">o</text><text class="lg" x="397" y="374.2">C</text>
<use href="#td" x="347.9" y="383.73" transform="translate(347.9,383.73) scale(1.08) translate(-347.9,-383.73)"/>
<text class="lg" x="371.2" y="389.73">160</text><text class="dg" x="392.8" y="382.53">o</text><text class="lg" x="397" y="389.73">C</text>
<use href="#co" x="347.9" y="399.26" transform="translate(347.9,399.26) scale(1.08) translate(-347.9,-399.26)"/>
<text class="lg" x="371.2" y="405.26">180</text><text class="dg" x="392.8" y="398.06">o</text><text class="lg" x="397" y="405.26">C</text>
<use href="#sq" x="347.9" y="414.79" transform="translate(347.9,414.79) scale(1.08) translate(-347.9,-414.79)"/>
<text class="lg" x="371.2" y="420.79">200</text><text class="dg" x="392.8" y="413.59">o</text><text class="lg" x="397" y="420.79">C</text>
<use href="#di" x="347.9" y="430.32" transform="translate(347.9,430.32) scale(1.08) translate(-347.9,-430.32)"/>
<text class="lg" x="371.2" y="436.32">220</text><text class="dg" x="392.8" y="429.12">o</text><text class="lg" x="397" y="436.32">C</text>
<use href="#ch" x="347.9" y="445.85" transform="translate(347.9,445.85) scale(1.08) translate(-347.9,-445.85)"/>
<text class="lg" x="371.2" y="451.85">240</text><text class="dg" x="392.8" y="444.65">o</text><text class="lg" x="397" y="451.85">C</text>
<use href="#sh" x="347.9" y="461.38" transform="translate(347.9,461.38) scale(1.08) translate(-347.9,-461.38)"/>
<text class="lg" x="371.2" y="467.38">270</text><text class="dg" x="392.8" y="460.18">o</text><text class="lg" x="397" y="467.38">C</text>
</g>
</svg>
</body></html>
